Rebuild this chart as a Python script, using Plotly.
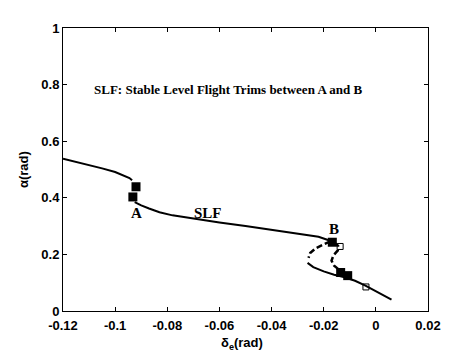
import plotly.graph_objects as go

# Stable branch above A
upper_x = [-0.12, -0.115, -0.11, -0.105, -0.10, -0.097, -0.0945, -0.0935]
upper_y = [0.538, 0.527, 0.515, 0.504, 0.491, 0.481, 0.470, 0.462]

# Stable level flight branch between A and B
slf_x = [-0.0925, -0.090, -0.087, -0.083, -0.078, -0.070, -0.060, -0.050, -0.040, -0.030, -0.022, -0.0175]
slf_y = [0.385, 0.373, 0.362, 0.349, 0.338, 0.326, 0.313, 0.300, 0.287, 0.273, 0.262, 0.248]

# Unstable (dashed) branch from B going left
unst1_x = [-0.0175, -0.020, -0.023, -0.0252, -0.0258]
unst1_y = [0.246, 0.236, 0.222, 0.205, 0.188]

# Unstable (dashed) branch from B going down
unst2_x = [-0.0160, -0.0145, -0.0146, -0.0163, -0.0170, -0.0160, -0.0140]
unst2_y = [0.242, 0.230, 0.214, 0.196, 0.178, 0.160, 0.145]

# Lower branch
lower_x = [-0.0262, -0.024, -0.020, -0.016, -0.012, -0.008, -0.004, 0.000, 0.003, 0.006]
lower_y = [0.170, 0.155, 0.140, 0.128, 0.119, 0.107, 0.090, 0.071, 0.055, 0.040]

# Markers
filled_x = [-0.0920, -0.0932, -0.0167, -0.0135, -0.0108]
filled_y = [0.439, 0.403, 0.243, 0.136, 0.125]
open_x = [-0.0137, -0.0038]
open_y = [0.228, 0.085]

# Labels
x_ticks = [-0.12, -0.1, -0.08, -0.06, -0.04, -0.02, 0, 0.02]
x_tick_text = ["-0.12", "-0.1", "-0.08", "-0.06", "-0.04", "-0.02", "0", "0.02"]
y_ticks = [0, 0.2, 0.4, 0.6, 0.8, 1]
y_tick_text = ["0", "0.2", "0.4", "0.6", "0.8", "1"]

fig = go.Figure()
line = dict(color="black", width=2)
fig.add_trace(go.Scatter(x=upper_x, y=upper_y, mode="lines", line=line))
fig.add_trace(go.Scatter(x=slf_x, y=slf_y, mode="lines", line=line))
fig.add_trace(go.Scatter(x=unst1_x, y=unst1_y, mode="lines", line=dict(color="black", width=2.5, dash="6px,3px")))
fig.add_trace(go.Scatter(x=unst2_x, y=unst2_y, mode="lines", line=dict(color="black", width=2.5, dash="6px,3px")))
fig.add_trace(go.Scatter(x=lower_x, y=lower_y, mode="lines", line=line))
fig.add_trace(go.Scatter(x=filled_x, y=filled_y, mode="markers",
                         marker=dict(symbol="square", size=9, color="black")))
fig.add_trace(go.Scatter(x=open_x, y=open_y, mode="markers",
                         marker=dict(symbol="square-open", size=6, color="black", line=dict(width=1))))

tfont = dict(family="Liberation Serif", size=15, color="black")
fig.add_annotation(x=-0.0567, y=0.784, text="<b>SLF: Stable Level Flight Trims between A and B</b>",
                   showarrow=False, font=dict(family="Liberation Serif", size=13, color="black"))
fig.add_annotation(x=-0.0917, y=0.345, text="<b>A</b>", showarrow=False, font=tfont)
fig.add_annotation(x=-0.0644, y=0.347, text="<b>SLF</b>", showarrow=False, font=tfont)
fig.add_annotation(x=-0.0159, y=0.289, text="<b>B</b>", showarrow=False, font=tfont)

axfont = dict(family="Liberation Sans", size=13, color="black")
# axis titles placed as annotations in paper coordinates
fig.add_annotation(xref="paper", yref="paper", x=0.49, y=-0.116, yanchor="middle",
                   text="<b>δ<sub>e</sub>(rad)</b>", showarrow=False, font=axfont)
fig.add_annotation(xref="paper", yref="paper", x=-0.108, y=0.5, xanchor="center",
                   text="<b>α(rad)</b>", textangle=-90, showarrow=False, font=axfont)

fig.update_layout(
    width=474, height=355,
    margin=dict(l=63, r=46, t=28, b=44),
    paper_bgcolor="white", plot_bgcolor="white",
    showlegend=False,
    xaxis=dict(range=[-0.12, 0.02], tickvals=x_ticks, ticktext=["<b>%s</b>" % t for t in x_tick_text],
               ticks="inside", ticklen=4, tickcolor="black", mirror="ticks",
               showline=True, linecolor="black", linewidth=1, showgrid=False, zeroline=False,
               tickfont=axfont, ticklabelstandoff=2),
    yaxis=dict(range=[0, 1], tickvals=y_ticks, ticktext=["<b>%s</b>" % t for t in y_tick_text],
               ticks="inside", ticklen=4, tickcolor="black", mirror="ticks",
               showline=True, linecolor="black", linewidth=1, showgrid=False, zeroline=False,
               tickfont=axfont),
)

fig.write_html("out.html", config={"displayModeBar": False},
               post_script="document.body.style.margin='0';")
